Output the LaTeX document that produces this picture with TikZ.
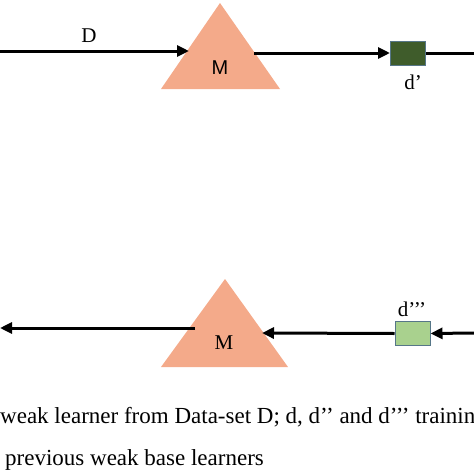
\documentclass[tikz,border=0pt]{standalone}
\usepackage{fontspec}
\setmainfont{Liberation Serif}
\newfontfamily\sansM{Liberation Sans}
\usetikzlibrary{arrows.meta}
\definecolor{salmon}{HTML}{F4AA8A}
\definecolor{darkbox}{HTML}{3F5C2B}
\definecolor{lightbox}{HTML}{A9D18E}
\definecolor{boxedge}{HTML}{567688}
\begin{document}
\begin{tikzpicture}[x=1pt,y=-1pt,
    flow/.style={line width=3pt,-{Triangle[length=12pt,width=11pt]}},
    plain/.style={line width=3pt},
    learner/.style={fill=salmon},
    sample/.style={draw=boxedge,line width=1pt,minimum width=35pt,minimum height=24pt,inner sep=0pt},
    lab/.style={inner sep=0pt,font=\fontsize{21}{25}\selectfont}]
    \path[clip] (0,0) rectangle (474,474);
    % first weak learner
    \fill[learner] (220,3) -- (161,89) -- (280,89) -- cycle;
    \node[inner sep=0pt,font=\sansM\fontsize{20}{24}\selectfont] (m1) at (220,68) {M};
    \coordinate (dIn) at (0,51);
    \coordinate (m1in) at (189,51);
    \coordinate (m1out) at (254,53);
    \draw[flow] (dIn) -- (m1in);
    \node[lab] (D) at (89,36) {D};
    \node[sample,fill=darkbox] (d1) at (408,53) {};
    \node[lab] (d1lab) at (413,82) {d’};
    \draw[flow] (m1out) -- (d1.west);
    \coordinate (d1out) at (474,53);
    \draw[plain] (d1.east) -- (d1out);
    % last weak learner
    \fill[learner] (225,279) -- (161,367) -- (288,367) -- cycle;
    \node[lab] (m3) at (224,343) {M};
    \coordinate (d3in) at (474,333);
    \coordinate (m3in) at (262,333);
    \coordinate (m3out) at (195,328);
    \coordinate (mOut) at (0,328);
    \node[sample,fill=lightbox] (d3) at (412.5,333.5) {};
    \node[lab] (d3lab) at (412,309) {d’’’};
    \draw[flow] (d3in) -- (d3.east);
    \draw[flow] (d3.west) -- (m3in);
    \draw[flow] (m3out) -- (mOut);
    % caption
    \node[anchor=base west,inner sep=0pt,font=\fontsize{23}{28}\selectfont] (cap1) at (0,423)
        {weak learner from Data-set D; d, d’’ and d’’’ trainin};
    \node[anchor=base west,inner sep=0pt,font=\fontsize{23}{28}\selectfont] (cap2) at (5,465)
        {previous weak base learners};
\end{tikzpicture}
\end{document}
